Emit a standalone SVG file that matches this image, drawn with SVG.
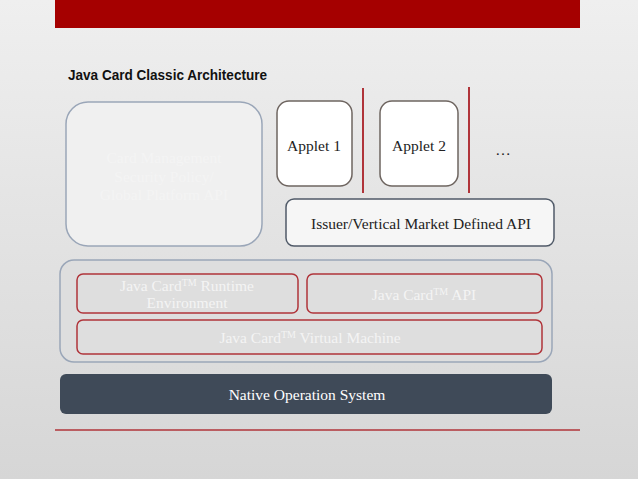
<svg xmlns="http://www.w3.org/2000/svg" width="638" height="479" viewBox="0 0 638 479">
<defs>
<linearGradient id="bg" x1="0" y1="0" x2="0" y2="1"><stop offset="0" stop-color="#efefef"/><stop offset="1" stop-color="#d6d6d6"/></linearGradient>
<style>
.s{font-family:"Liberation Serif","Times New Roman",serif;font-size:15.5px;text-anchor:middle}
.w{fill:#f4f4f4}
.d{fill:#222}
.red{fill:none;stroke:#b0343a;stroke-width:1.5}
.sep{stroke:#b0343a;stroke-width:2}
</style>
</defs>
<rect width="638" height="479" fill="url(#bg)"/>
<rect x="55" y="0" width="525" height="28" fill="#a50000"/>
<text x="68" y="80" font-family="Liberation Sans,Arial,sans-serif" font-weight="bold" font-size="15" textLength="199" lengthAdjust="spacingAndGlyphs" fill="#111">Java Card Classic Architecture</text>
<g id="cardmgmt"><rect x="66" y="102" width="196" height="144" rx="22" fill="#f0f0f0" stroke="#9aa6b8" stroke-width="1.5"/>
<text class="s w" x="164" y="163">Card Management</text><text class="s w" x="164" y="182">Security Policy/</text><text class="s w" x="164" y="200">Global Platform API</text></g>
<g id="applet1"><rect x="277" y="101" width="75" height="85" rx="12" fill="#fff" stroke="#6e6560" stroke-width="1.5"/><text class="s d" x="314" y="151">Applet 1</text></g>
<g id="applet2"><rect x="380" y="101" width="78" height="85" rx="12" fill="#fff" stroke="#6e6560" stroke-width="1.5"/><text class="s d" x="419" y="151">Applet 2</text></g>
<g id="dots"><text class="s d" x="503" y="155">…</text></g>
<g id="separators"><line class="sep" x1="363" y1="88" x2="363" y2="193"/><line class="sep" x1="469" y1="87" x2="469" y2="193"/></g>
<g id="issuer"><rect x="286" y="199" width="268" height="47" rx="8" fill="#f6f6f6" stroke="#505a68" stroke-width="1.5"/><text class="s d" x="421" y="229">Issuer/Vertical Market Defined API</text></g>
<g id="jcre-outer"><rect x="60" y="260" width="492" height="102" rx="14" fill="#dedede" stroke="#9aa6b8" stroke-width="1.5"/></g>
<g id="runtime"><rect class="red" x="77" y="274" width="221" height="39" rx="6"/><text class="s w" x="187" y="291">Java Card<tspan font-size="10" dy="-5">TM</tspan><tspan dy="5"> Runtime</tspan></text><text class="s w" x="187" y="308">Environment</text></g>
<g id="api"><rect class="red" x="307" y="274" width="235" height="39" rx="6"/><text class="s w" x="424" y="300">Java Card<tspan font-size="10" dy="-5">TM</tspan><tspan dy="5"> API</tspan></text></g>
<g id="vm"><rect class="red" x="77" y="320" width="465" height="34" rx="6"/><text class="s w" x="310" y="343">Java Card<tspan font-size="10" dy="-5">TM</tspan><tspan dy="5"> Virtual Machine</tspan></text></g>
<g id="native"><rect x="60" y="374" width="492" height="40" rx="6" fill="#3f4a58"/><text class="s" x="307" y="400" fill="#fff">Native Operation System</text></g>
<line x1="55" y1="430" x2="580" y2="430" stroke="#b0343a" stroke-width="1.5"/>
</svg>
